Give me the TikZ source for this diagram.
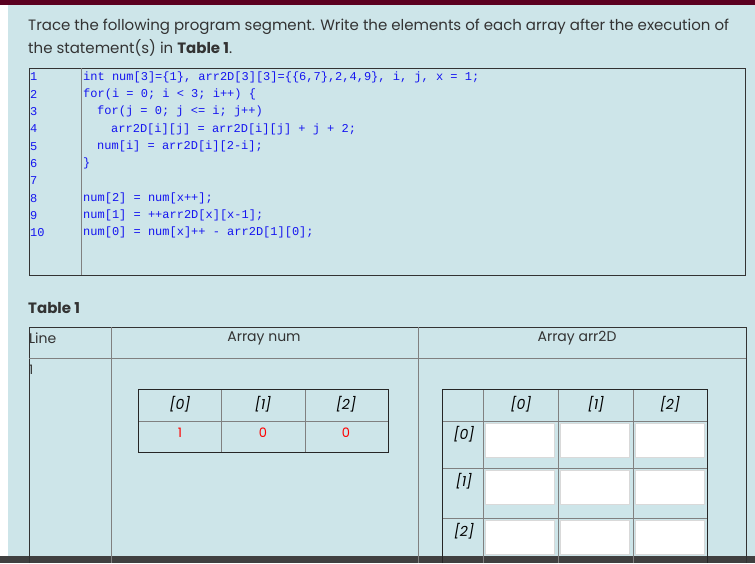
\documentclass[tikz,border=0pt]{standalone}
\usepackage{fontspec}
\setmainfont{Poppins}
\setmonofont{Liberation Mono}
\usetikzlibrary{positioning}
\definecolor{bgblue}{HTML}{CDE5E9}
\definecolor{topbar}{HTML}{5A0020}
\definecolor{codeblue}{HTML}{1515F0}
\definecolor{gridgray}{HTML}{808080}
\begin{document}
\begin{tikzpicture}[x=1pt,y=-1pt,
  txt/.style={anchor=west,inner sep=0pt,font=\fontsize{15}{17}\selectfont,text=black!80},
  code/.style={anchor=west,inner sep=0pt,font=\fontsize{12}{14}\ttfamily,text=codeblue},
  idx/.style={inner sep=0pt,font=\fontsize{14}{16}\itshape},
  val/.style={inner sep=0pt,font=\fontsize{13}{15}\selectfont,text=red},
  cellbox/.style={fill=white,draw=black!15}]
  \useasboundingbox (0,0) rectangle (755,563);
  % background
  \fill[white] (0,0) rectangle (755,563);
  \fill[bgblue] (8,5) rectangle (755,556);
  \fill[topbar] (0,0) rectangle (755,5);
  \fill[black!75] (0,556) rectangle (755,563);
  % question
  \node[txt] (q1) at (28,27) {Trace the following program segment. Write the elements of each array after the execution of};
  \node[txt] (q2) at (28,48) {the statement(s) in \textbf{Table 1}.};
  % code box
  \draw[black!80,thick] (29,68) rectangle (745,275);
  \draw[gridgray] (81,68) -- (81,275);
  \foreach \n in {1,...,10}
    \node[code] (ln\n) at (30,{77+17.3*(\n-1)}) {\n};
  \node[code] (c1) at (83,77) {int num[3]=\{1\}, arr2D[3][3]=\{\{6,7\},2,4,9\}, i, j, x = 1;};
  \node[code] (c2) at (83,94.3) {for(i = 0; i < 3; i++) \{};
  \node[code] (c3) at (97,111.6) {for(j = 0; j <= i; j++)};
  \node[code] (c4) at (111,128.9) {arr2D[i][j] = arr2D[i][j] + j + 2;};
  \node[code] (c5) at (97,146.2) {num[i] = arr2D[i][2-i];};
  \node[code] (c6) at (83,163.5) {\}};
  \node[code] (c8) at (83,198.1) {num[2] = num[x++];};
  \node[code] (c9) at (83,215.4) {num[1] = ++arr2D[x][x-1];};
  \node[code] (c10) at (83,232.7) {num[0] = num[x]++ - arr2D[1][0];};
  % table
  \node[txt] (tab) at (28,308) {\fontseries{sb}\selectfont Table 1};
  \draw[black!80,thick] (29,563) -- (29,327) -- (746,327) -- (746,563);
  \draw[gridgray] (29,358) -- (746,358);
  \draw[gridgray] (111,327) -- (111,563);
  \draw[gridgray] (418,327) -- (418,563);
  \node[txt,font=\fontsize{14}{16}\selectfont] (hline) at (29,338) {Line};
  \node[txt,anchor=center,font=\fontsize{14}{16}\selectfont] (hnum) at (264,338) {Array num};
  \node[txt,anchor=center,font=\fontsize{14}{16}\selectfont] (harr) at (577,338) {Array arr2D};
  \node[txt,font=\fontsize{13}{15}\selectfont] (l1) at (29,370) {1};
  % array num
  \draw[gridgray] (138,421) -- (388,421) (221,389) -- (221,452) (305,389) -- (305,452);
  \draw[black!85] (138,389) rectangle (388,452);
  \foreach \i/\x/\v in {0/180/1,1/263/0,2/346/0} {
    \node[idx] (nh\i) at (\x,404) {[\i]};
    \node[val] (nv\i) at (\x,433) {\v};
  }
  % array arr2D
  \foreach \x in {483,558,633} \draw[gridgray] (\x,389) -- (\x,563);
  \foreach \y in {421,468,518} \draw[gridgray] (442,\y) -- (707,\y);
  \draw[black!85] (442,563) -- (442,389) -- (707,389) -- (707,563);
  \foreach \i/\x in {0/521,1/596,2/670} \node[idx] (ah\i) at (\x,404) {[\i]};
  \foreach \r/\y in {0/421,1/468,2/518} {
    \node[idx] (ar\r) at (464,\y+13) {[\r]};
    \foreach \c/\x in {0/483,1/558,2/633}
      \draw[cellbox] (\x+2,\y+2) rectangle (\x+71,\y+36);
  }
\end{tikzpicture}
\end{document}
